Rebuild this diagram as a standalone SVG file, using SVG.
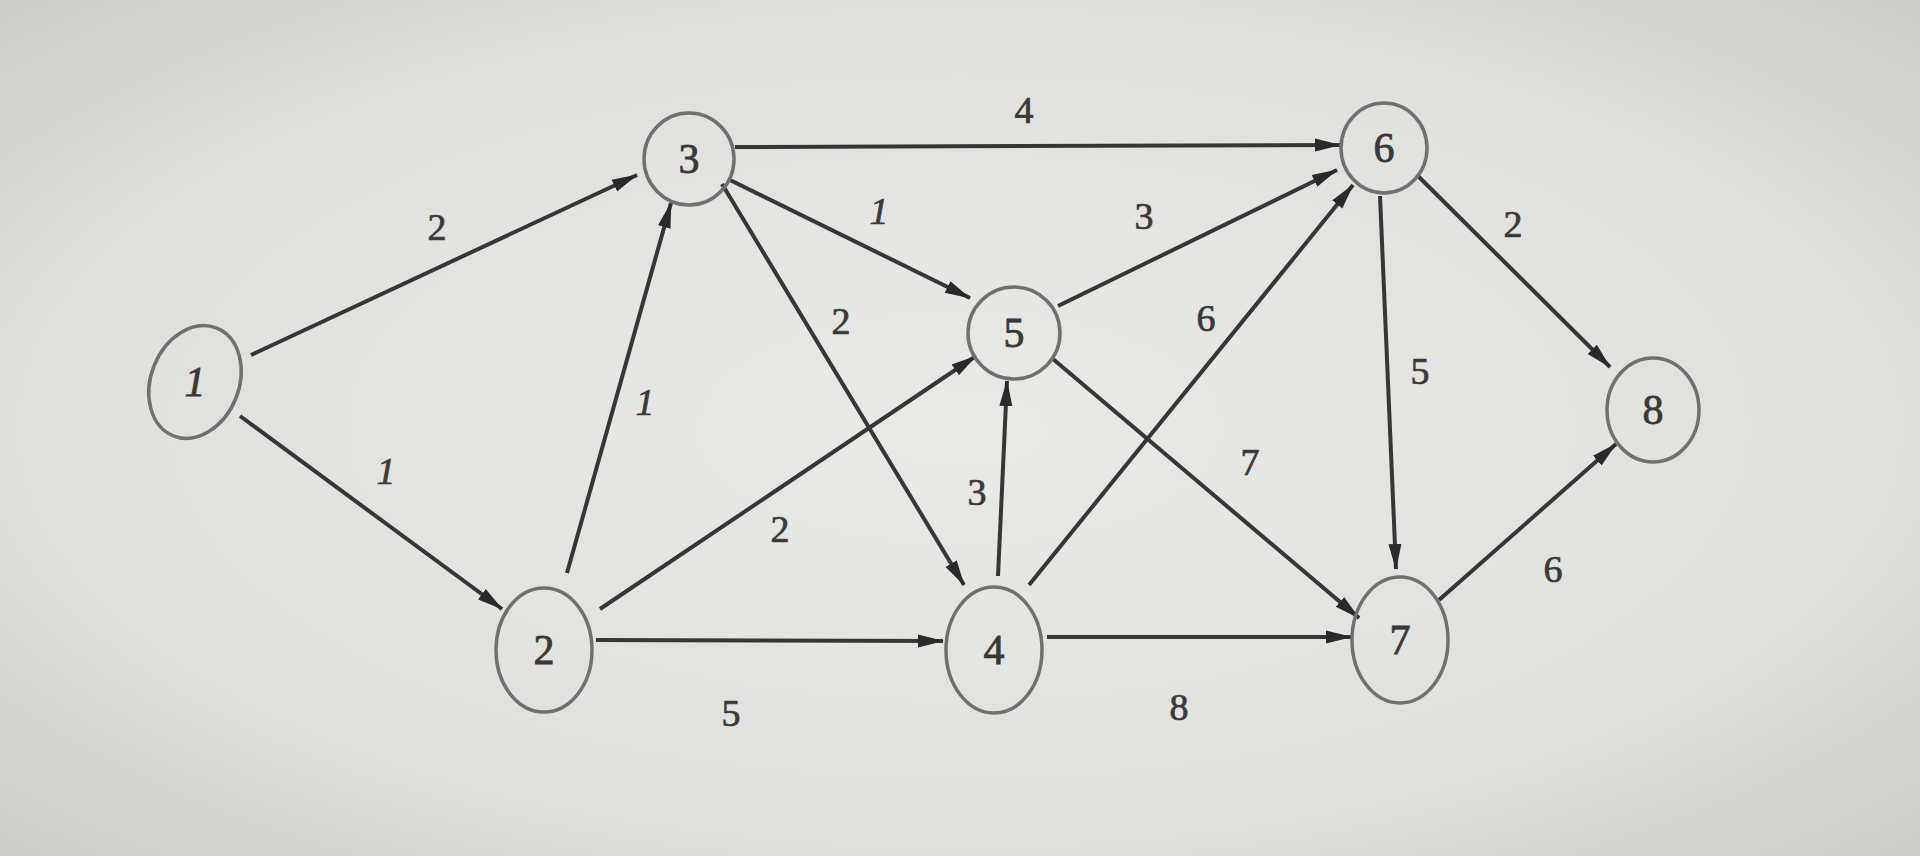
<svg xmlns="http://www.w3.org/2000/svg" width="1920" height="856" viewBox="0 0 1920 856">
  <defs>
    <radialGradient id="bg" cx="0.5" cy="0.5" r="0.75">
      <stop offset="0" stop-color="#e9e9e6"/>
      <stop offset="0.65" stop-color="#dfdfdc"/>
      <stop offset="1" stop-color="#c6c6c4"/>
    </radialGradient>
    <marker id="arr" viewBox="0 0 26 16" refX="25" refY="8" markerWidth="26" markerHeight="16" markerUnits="userSpaceOnUse" orient="auto">
      <path d="M0,1.5 L26,8 L0,14.5 z" fill="#2a2a2a"/>
    </marker>
    <style>
      .node ellipse { fill: none; stroke: #707070; stroke-width: 3.5; }
      .node text { font-family: "Liberation Serif", "DejaVu Serif", serif; font-size: 42px; fill: #383838; text-anchor: middle; dominant-baseline: central; stroke: #383838; stroke-width: 0.8; }
      .edge { stroke: #363636; stroke-width: 4; fill: none; marker-end: url(#arr); }
      .lbl { font-family: "Liberation Serif", "DejaVu Serif", serif; font-size: 38px; fill: #3a3a3a; text-anchor: middle; dominant-baseline: central; stroke: #3a3a3a; stroke-width: 0.7; }
    </style>
  </defs>
  <rect width="1920" height="856" fill="url(#bg)"/>

  <g id="connectors">
    <line class="edge" x1="251" y1="355" x2="637" y2="175"/>
    <line class="edge" x1="240" y1="416" x2="502" y2="609"/>
    <line class="edge" x1="567" y1="573" x2="671" y2="203"/>
    <line class="edge" x1="600" y1="609" x2="976" y2="356"/>
    <line class="edge" x1="596" y1="640" x2="943" y2="641"/>
    <line class="edge" x1="735" y1="147" x2="1340" y2="145"/>
    <line class="edge" x1="730" y1="180" x2="970" y2="298"/>
    <line class="edge" x1="722" y1="184" x2="964" y2="585"/>
    <line class="edge" x1="998" y1="576" x2="1007" y2="381"/>
    <line class="edge" x1="1058" y1="306" x2="1337" y2="170"/>
    <line class="edge" x1="1029" y1="585" x2="1353" y2="185"/>
    <line class="edge" x1="1053" y1="359" x2="1359" y2="618"/>
    <line class="edge" x1="1047" y1="637" x2="1351" y2="637"/>
    <line class="edge" x1="1380" y1="196" x2="1396" y2="569"/>
    <line class="edge" x1="1417" y1="175" x2="1610" y2="367"/>
    <line class="edge" x1="1439" y1="600" x2="1616" y2="444"/>
  </g>

  <g id="edge-labels">
    <text class="lbl" x="437" y="227">2</text>
    <text class="lbl" x="386" y="471" font-style="italic">1</text>
    <text class="lbl" x="645" y="402" font-style="italic">1</text>
    <text class="lbl" x="780" y="529">2</text>
    <text class="lbl" x="731" y="713">5</text>
    <text class="lbl" x="1024" y="110">4</text>
    <text class="lbl" x="879" y="211" font-style="italic">1</text>
    <text class="lbl" x="841" y="321">2</text>
    <text class="lbl" x="977" y="492">3</text>
    <text class="lbl" x="1144" y="216">3</text>
    <text class="lbl" x="1206" y="318">6</text>
    <text class="lbl" x="1250" y="462">7</text>
    <text class="lbl" x="1179" y="707">8</text>
    <text class="lbl" x="1420" y="371">5</text>
    <text class="lbl" x="1513" y="224">2</text>
    <text class="lbl" x="1553" y="569">6</text>
  </g>

  <g id="node1" class="node">
    <ellipse cx="195" cy="382" rx="44" ry="58" transform="rotate(22 195 382)"/>
    <text x="195" y="382" font-style="italic">1</text>
  </g>
  <g id="node2" class="node">
    <ellipse cx="544" cy="650" rx="48" ry="62"/>
    <text x="544" y="650">2</text>
  </g>
  <g id="node3" class="node">
    <ellipse cx="689" cy="159" rx="45" ry="46"/>
    <text x="689" y="159">3</text>
  </g>
  <g id="node4" class="node">
    <ellipse cx="994" cy="650" rx="48" ry="63"/>
    <text x="994" y="650">4</text>
  </g>
  <g id="node5" class="node">
    <ellipse cx="1014" cy="333" rx="46" ry="46"/>
    <text x="1014" y="333">5</text>
  </g>
  <g id="node6" class="node">
    <ellipse cx="1384" cy="148" rx="43" ry="45"/>
    <text x="1384" y="148">6</text>
  </g>
  <g id="node7" class="node">
    <ellipse cx="1400" cy="640" rx="48" ry="63"/>
    <text x="1400" y="640">7</text>
  </g>
  <g id="node8" class="node">
    <ellipse cx="1653" cy="410" rx="46" ry="52"/>
    <text x="1653" y="410">8</text>
  </g>
</svg>
